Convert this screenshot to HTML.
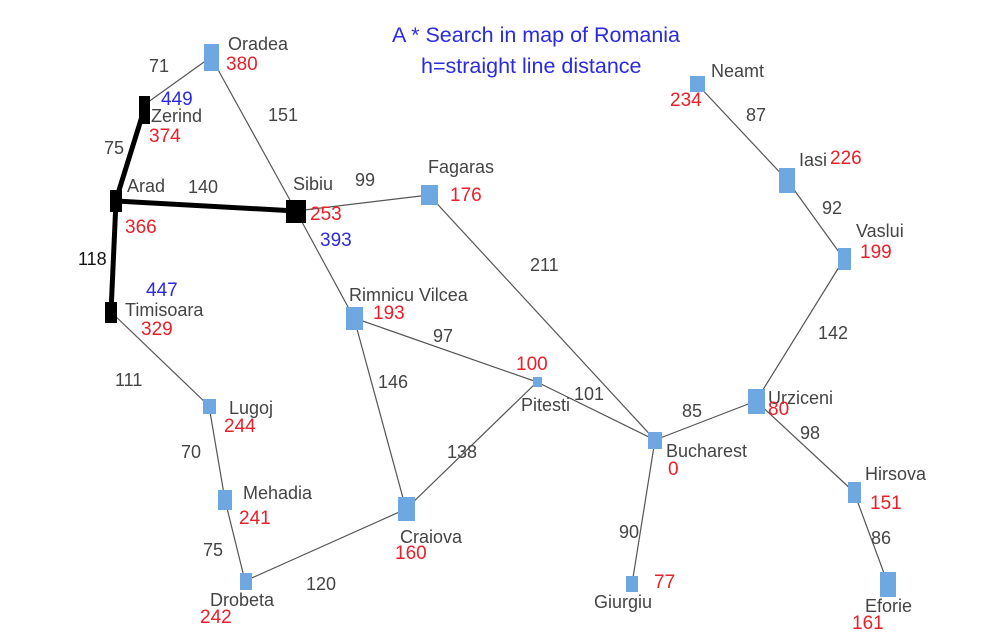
<!DOCTYPE html>
<html><head><meta charset="utf-8"><style>
html,body{margin:0;padding:0;background:#fff;}
svg{display:block;font-family:"Liberation Sans",Arial,sans-serif;}
.g{fill:#444;font-size:18px;}
.r{fill:#e8202a;font-size:19px;}
.b{fill:#2a2ae0;font-size:19px;}
.n{fill:#6fa8e0;}
line.e{stroke:#555;stroke-width:1.2;}
line.t{stroke:#000;stroke-width:5;}
</style></head><body>
<svg width="993" height="633" viewBox="0 0 993 633">
<line class="e" x1="211" y1="57" x2="144" y2="105"/>
<line class="e" x1="211" y1="57" x2="296" y2="211"/>
<line class="e" x1="296" y1="211" x2="429" y2="195"/>
<line class="e" x1="296" y1="211" x2="354" y2="318"/>
<line class="e" x1="429" y1="195" x2="655" y2="440"/>
<line class="e" x1="354" y1="318" x2="537" y2="382"/>
<line class="e" x1="354" y1="318" x2="406" y2="509"/>
<line class="e" x1="537" y1="382" x2="655" y2="440"/>
<line class="e" x1="537" y1="382" x2="406" y2="509"/>
<line class="e" x1="111" y1="312" x2="209" y2="406"/>
<line class="e" x1="209" y1="406" x2="225" y2="500"/>
<line class="e" x1="225" y1="500" x2="245" y2="581"/>
<line class="e" x1="245" y1="581" x2="406" y2="509"/>
<line class="e" x1="655" y1="440" x2="756" y2="401"/>
<line class="e" x1="655" y1="440" x2="632" y2="584"/>
<line class="e" x1="756" y1="401" x2="844" y2="259"/>
<line class="e" x1="756" y1="401" x2="854" y2="492"/>
<line class="e" x1="854" y1="492" x2="888" y2="584"/>
<line class="e" x1="844" y1="259" x2="787" y2="180"/>
<line class="e" x1="787" y1="180" x2="697" y2="84"/>
<line class="t" x1="144" y1="110" x2="116" y2="200"/>
<line class="t" x1="116" y1="201" x2="296" y2="211"/>
<line class="t" x1="116" y1="201" x2="111" y2="312"/>
<rect class="n" x="204" y="44" width="15" height="27"/>
<rect x="139" y="96" width="11" height="28" fill="#000"/>
<rect x="110" y="190" width="12" height="22" fill="#000"/>
<rect x="286" y="200" width="20" height="23" fill="#000"/>
<rect x="105" y="302" width="12" height="21" fill="#000"/>
<rect class="n" x="421" y="185" width="17" height="20"/>
<rect class="n" x="346" y="307" width="17" height="23"/>
<rect class="n" x="533" y="377" width="9" height="10"/>
<rect class="n" x="203" y="399" width="13" height="15"/>
<rect class="n" x="218" y="490" width="14" height="20"/>
<rect class="n" x="398" y="497" width="17" height="24"/>
<rect class="n" x="240" y="573" width="12" height="17"/>
<rect class="n" x="648" y="432" width="14" height="17"/>
<rect class="n" x="626" y="576" width="12" height="16"/>
<rect class="n" x="748" y="389" width="17" height="25"/>
<rect class="n" x="848" y="482" width="13" height="21"/>
<rect class="n" x="880" y="572" width="16" height="25"/>
<rect class="n" x="838" y="248" width="13" height="22"/>
<rect class="n" x="779" y="168" width="16" height="25"/>
<rect class="n" x="690" y="76" width="15" height="16"/>
<text x="392" y="42" fill="#2a2ae0" font-size="21.5">A * Search in map of Romania</text>
<text x="421" y="73" fill="#2a2ae0" font-size="21.5">h=straight line distance</text>
<text class="g" x="228" y="50">Oradea</text><text class="r" x="226" y="70">380</text>
<text class="g" x="151" y="122">Zerind</text><text class="r" x="149" y="142">374</text><text class="b" x="161" y="105">449</text>
<text class="g" x="127" y="192">Arad</text><text class="r" x="125" y="233">366</text>
<text class="g" x="293" y="190">Sibiu</text><text class="r" x="310" y="220">253</text><text class="b" x="320" y="246">393</text>
<text class="g" x="125" y="316">Timisoara</text><text class="r" x="141" y="335">329</text><text class="b" x="146" y="296">447</text>
<text class="g" x="428" y="173">Fagaras</text><text class="r" x="450" y="201">176</text>
<text class="g" x="349" y="301">Rimnicu Vilcea</text><text class="r" x="373" y="319">193</text>
<text class="g" x="521" y="411">Pitesti</text><text class="r" x="516" y="370">100</text>
<text class="g" x="229" y="414">Lugoj</text><text class="r" x="224" y="432">244</text>
<text class="g" x="243" y="499">Mehadia</text><text class="r" x="239" y="524">241</text>
<text class="g" x="400" y="543">Craiova</text><text class="r" x="395" y="559">160</text>
<text class="g" x="210" y="606">Drobeta</text><text class="r" x="200" y="623">242</text>
<text class="g" x="666" y="457">Bucharest</text><text class="r" x="668" y="475">0</text>
<text class="g" x="594" y="608">Giurgiu</text><text class="r" x="654" y="588">77</text>
<text class="g" x="768" y="404">Urziceni</text><text class="r" x="768" y="415">80</text>
<text class="g" x="865" y="480">Hirsova</text><text class="r" x="870" y="509">151</text>
<text class="g" x="865" y="612">Eforie</text><text class="r" x="852" y="629">161</text>
<text class="g" x="856" y="237">Vaslui</text><text class="r" x="860" y="258">199</text>
<text class="g" x="799" y="166">Iasi</text><text class="r" x="830" y="164">226</text>
<text class="g" x="711" y="77">Neamt</text><text class="r" x="670" y="106">234</text>
<text class="g" x="149" y="72">71</text>
<text class="g" x="268" y="121">151</text>
<text class="g" x="104" y="154">75</text>
<text class="g" x="188" y="193">140</text>
<text class="g" x="355" y="186">99</text>
<text class="g" x="78" y="265" style="fill:#111">118</text>
<text class="g" x="530" y="271">211</text>
<text class="g" x="433" y="342">97</text>
<text class="g" x="378" y="388">146</text>
<text class="g" x="574" y="400">101</text>
<text class="g" x="115" y="386">111</text>
<text class="g" x="181" y="458">70</text>
<text class="g" x="447" y="458">138</text>
<text class="g" x="203" y="556">75</text>
<text class="g" x="306" y="590">120</text>
<text class="g" x="682" y="417">85</text>
<text class="g" x="619" y="538">90</text>
<text class="g" x="800" y="439">98</text>
<text class="g" x="871" y="544">86</text>
<text class="g" x="818" y="339">142</text>
<text class="g" x="822" y="214">92</text>
<text class="g" x="746" y="121">87</text>
</svg>
</body></html>
